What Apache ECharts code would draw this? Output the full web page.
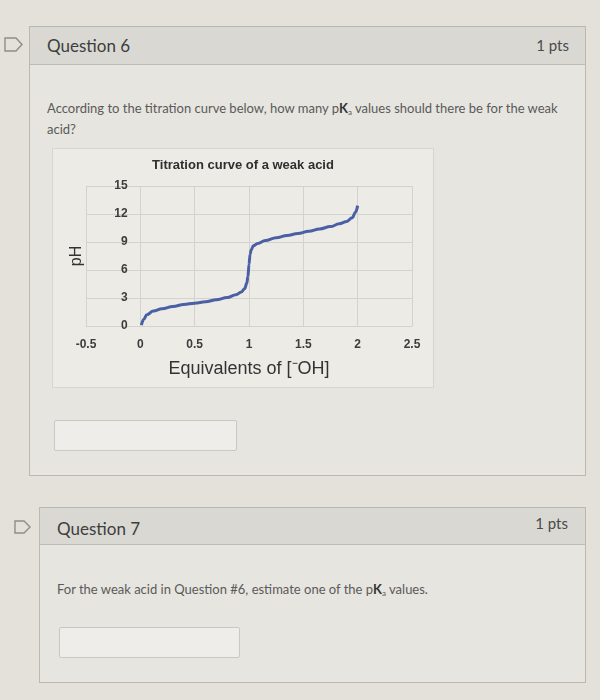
<!DOCTYPE html>
<html>
<head>
<meta charset="utf-8">
<script src="https://cdn.jsdelivr.net/npm/echarts@6/dist/echarts.min.js"></script>
<style>
  html, body { margin:0; padding:0; }
  body { width:600px; height:700px; background:#e3e1da; position:relative; overflow:hidden; font-family: Lato, "Open Sans", sans-serif; }
  .panel { position:absolute; border:1px solid #b9b8b2; background:#e7e5df; box-sizing:border-box; }
  .head { position:absolute; left:0; right:0; top:0; background:#d9d8d3; border-bottom:1px solid #bdbcb6; box-sizing:border-box; }
  .qtitle { position:absolute; font-size:17px; color:#3e3e3e; }
  .pts { position:absolute; font-size:15px; color:#4a4a4a; }
  .qtext { position:absolute; font-size:13px; color:#5a5a5a; line-height:21px; white-space:nowrap; }
  .answer { position:absolute; background:#eeede9; border:1px solid #c9c8c3; border-radius:2px; box-sizing:border-box; }
  .flag { position:absolute; }
  #chartBox { position:absolute; left:52px; top:148px; width:382px; height:240px; background:#ecebe6; border:1px solid #d6d5d0; box-sizing:border-box; }
  #chart { width:100%; height:100%; }
  b.k { color:#333; }
  sub { font-size:8px; line-height:0; vertical-align:-2px; }
</style>
</head>
<body>
<!-- Question 6 -->
<svg class="flag" style="left:4px;top:37px" width="19" height="15" viewBox="0 0 19 15"><path d="M1 1 H12 L18 7.5 L12 14 H1 Z" fill="none" stroke="#8d8d8a" stroke-width="1.4"/></svg>
<div class="panel" style="left:29px;top:26px;width:557px;height:450px;">
  <div class="head" style="height:38px;">
    <div class="qtitle" style="left:17px;top:8px;">Question 6</div>
    <div class="pts" style="right:16px;top:9px;">1 pts</div>
  </div>
  <div class="qtext" style="left:17px;top:71px;">According to the titration curve below, how many p<b class="k">K</b><sub>a</sub> values should there be for the weak<br>acid?</div>
  <div class="answer" style="left:24px;top:393px;width:183px;height:31px;"></div>
</div>
<div id="chartBox"><div id="chart"></div></div>

<!-- Question 7 -->
<svg class="flag" style="left:14px;top:520px" width="17" height="14" viewBox="0 0 17 14"><path d="M1 1 H10 L16 7 L10 13 H1 Z" fill="none" stroke="#8d8d8a" stroke-width="1.4"/></svg>
<div class="panel" style="left:39px;top:507px;width:547px;height:176px;">
  <div class="head" style="height:37px;">
    <div class="qtitle" style="left:17px;top:10px;">Question 7</div>
    <div class="pts" style="right:17px;top:6px;">1 pts</div>
  </div>
  <div class="qtext" style="left:17px;top:71px;">For the weak acid in Question #6, estimate one of the p<b class="k">K</b><sub>a</sub> values.</div>
  <div class="answer" style="left:19px;top:119px;width:181px;height:31px;"></div>
</div>

<script>
// Data
const chartTitle = "Titration curve of a weak acid";
const xAxisTitle = "Equivalents of [\u207BOH]";
const yAxisTitle = "pH";
const equivalents = [0.01, 0.03, 0.06, 0.12, 0.2, 0.3, 0.4, 0.5, 0.6, 0.7, 0.8, 0.88, 0.93, 0.96, 0.98, 0.99, 1.0, 1.01, 1.02, 1.04, 1.08, 1.15, 1.25, 1.35, 1.45, 1.55, 1.65, 1.75, 1.83, 1.9, 1.95, 1.98, 2.0];
const pHValues    = [0.1, 0.7, 1.2, 1.6, 1.85, 2.1, 2.3, 2.45, 2.6, 2.8, 3.05, 3.35, 3.65, 4.0, 4.6, 5.3, 6.6, 7.7, 8.15, 8.6, 8.85, 9.15, 9.45, 9.7, 9.9, 10.15, 10.4, 10.65, 10.95, 11.2, 11.6, 12.2, 12.9];
const xTicks = { min: -0.5, max: 2.5, interval: 0.5 };
const yTicks = { min: 0, max: 15, interval: 3 };

const points = equivalents.map((x, i) => [x, pHValues[i]]);
const chart = echarts.init(document.getElementById('chart'), null, { renderer: 'canvas' });
const gridColor = '#d3d2cd';
const gridLeft = 33, gridRight = 21, chartWidth = 382;
// the vertical axis crosses at x = 0 (as in the Excel original)
const plotWidth = chartWidth - gridLeft - gridRight;
const yAxisShift = -plotWidth * (0 - xTicks.min) / (xTicks.max - xTicks.min);
chart.setOption({
  animation: false,
  backgroundColor: 'transparent',
  title: {
    text: chartTitle, left: 'center', top: 5,
    textStyle: { fontFamily: 'Liberation Sans, Arial, sans-serif', fontSize: 13, fontWeight: 'bold', color: '#2f2f2f' }
  },
  grid: { left: gridLeft, right: gridRight, top: 37, bottom: 61, containLabel: false, outerBoundsMode: 'none' },
  xAxis: {
    type: 'value', min: xTicks.min, max: xTicks.max, interval: xTicks.interval,
    name: xAxisTitle, nameLocation: 'middle', nameGap: 34,
    nameTextStyle: { fontFamily: 'Liberation Sans, Arial, sans-serif', fontSize: 18, color: '#333' },
    axisLine: { show: true, onZero: false, lineStyle: { color: gridColor, width: 1 } }, axisTick: { show: false },
    axisLabel: { margin: 13, fontFamily: 'Liberation Sans, Arial, sans-serif', fontSize: 12, fontWeight: 'bold', color: '#3c3c3c' },
    splitLine: { show: true, lineStyle: { color: gridColor, width: 1 } }
  },
  yAxis: {
    type: 'value', min: yTicks.min, max: yTicks.max, interval: yTicks.interval,
    offset: yAxisShift,
    name: yAxisTitle, nameLocation: 'middle', nameGap: 56, nameRotate: 90,
    nameTextStyle: { fontFamily: 'Liberation Sans, Arial, sans-serif', fontSize: 16, color: '#333' },
    axisLine: { show: false, onZero: false }, axisTick: { show: false },
    axisLabel: { margin: 13, fontFamily: 'Liberation Sans, Arial, sans-serif', fontSize: 12, fontWeight: 'bold', color: '#3c3c3c' },
    splitLine: { show: true, lineStyle: { color: gridColor, width: 1 } }
  },
  series: [{
    type: 'line', data: points, showSymbol: false, symbol: 'none',
    smooth: 0.4, smoothMonotone: 'x',
    lineStyle: { color: '#4a60a5', width: 3 }
  }]
});
</script>
</body>
</html>
